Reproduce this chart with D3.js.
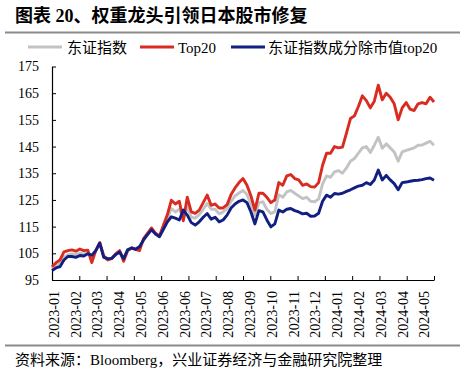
<!DOCTYPE html>
<html><head><meta charset="utf-8">
<script src="https://cdn.jsdelivr.net/npm/d3@7/dist/d3.min.js"></script>
<style>
body{margin:0;background:#fff;}
svg text{font-family:"Liberation Serif","Times New Roman","Noto Sans CJK SC",serif;}
</style></head><body>
<svg id="c" width="474" height="376"></svg>
<script>
const seriesNames = ["东证指数","Top20","东证指数成分除市值top20"];
const topix = [99.5,100.5,101.5,103.5,104.5,104.8,104.5,105,104.8,105.3,103.5,106,109,104,103,103.2,104.5,105.5,102.8,106.3,107,106.8,107.5,110,112,114,112.5,111.5,114.5,118,121.8,120.5,121.5,118,122.4,118.5,118.2,119.5,121.5,123.7,121.5,121.5,119.8,120.5,121.8,124.5,126.5,127.6,128.5,127,123.5,119.3,124,124.3,121.5,119.9,120.5,127,126,128,128.6,127.5,126.5,125.5,126,124.5,124.3,125.3,131,134,133.5,135.5,136,135,137,139.5,140.5,142.5,144.5,145,142.8,145.5,148.5,144.4,146,144.5,143,139.5,143,143.6,144,144.5,145.5,145.6,146.3,147,145.5];
const top20 = [100,101.5,102.5,105.5,106,106.3,105.8,106.6,106,106.2,101.5,106,109,104,102.5,103,104.8,106,102,106,107,106.5,106,110.5,112.5,114.5,112.5,111.5,115.5,119.5,124.9,123.5,124.5,117.2,126,120.5,120,121.2,124,126.8,123,123.5,122,122,123.2,127,129.5,131.5,133,130.5,126.5,121.2,127.5,127.5,126,124,125,131.5,130.5,134,134.5,133,132.5,130.5,131,130,129.8,131.5,138,142.5,142.5,145,144.5,144.8,150,155.5,156.5,160,164,162.2,159.5,162,168,162.5,165,163.5,161,155,159.5,161.5,159,158.5,161,161.5,161,163.5,161.7];
const exTop20 = [98.5,99.5,100,102.5,103.8,103.8,103.5,104.2,104,104.8,104.3,106,108.8,103.5,103,103.1,104.5,105.5,103,106.3,107,106.5,107.5,110,112,113.8,112.2,111.2,114,116.8,118.7,118.2,117.5,121.2,119.3,116.5,115.6,116.8,118.5,119.9,117.8,118.5,116.8,117.5,119.3,122,123.5,124.5,125,124,120.5,116,121,120.5,117.5,114.9,116,121.2,120.5,121.5,121.8,121,120.5,119.8,120,118.9,119,120,124.5,126.8,126,127.4,127.2,127.5,128.2,128.8,129.5,130.2,130.5,131.5,130.8,132.5,136.2,132.5,134.2,132.5,131.1,128.8,131.5,131.7,132,132.3,132.4,132.6,133,133.2,132.4];
const xLabels = ["2023-01","2023-02","2023-03","2023-04","2023-05","2023-06","2023-06","2023-07","2023-08","2023-09","2023-10","2023-11","2023-12","2024-01","2024-02","2024-03","2024-04","2024-05"];
const yTicks = [95,105,115,125,135,145,155,165,175];
const colors = ["#c3c3c3","#d92b20","#112080"];

const svg = d3.select("#c");
const pL = 52, pR = 434, pT = 66.5, pB = 280;
const n = topix.length;
const x = d3.scaleLinear().domain([0, n-1]).range([pL, pR]);
const y = d3.scaleLinear().domain([95,175]).range([pB, pT]);

// title
svg.append("text").attr("x",15).attr("y",22).attr("font-size",18).attr("font-weight","bold")
  .style("font-family","'Liberation Serif','Noto Sans CJK SC',serif").text("图表 20、权重龙头引领日本股市修复");
svg.append("line").attr("x1",5).attr("x2",460).attr("y1",32.5).attr("y2",32.5).attr("stroke","#8a8a8a").attr("stroke-width",2);
svg.append("line").attr("x1",5).attr("x2",460).attr("y1",345.5).attr("y2",345.5).attr("stroke","#8a8a8a").attr("stroke-width",2);
svg.append("text").attr("x",15).attr("y",365).attr("font-size",15).text("资料来源：Bloomberg，兴业证券经济与金融研究院整理");

// legend
const legX = [[28,67],[140,178],[231,268]];
seriesNames.forEach((s,i)=>{
  svg.append("line").attr("x1",legX[i][0]).attr("x2",legX[i][0]+34).attr("y1",47).attr("y2",47).attr("stroke",colors[i]).attr("stroke-width",3);
  svg.append("text").attr("x",legX[i][1]).attr("y",52.5).attr("font-size",15).text(s);
});

// y axis
const ya = svg.append("g").attr("transform",`translate(${pL},0)`)
  .call(d3.axisLeft(y).tickValues(yTicks).tickSizeInner(-4).tickSizeOuter(0).tickPadding(13));
ya.select(".domain").attr("stroke","#000").attr("stroke-width",1.2);
ya.selectAll("text").attr("font-size",14).attr("fill","#000").style("font-family","'Liberation Serif',serif");

// x axis ticks (14 intervals)
const tickScale = d3.scaleLinear().domain([0,14]).range([pL,pR]);
const xa = svg.append("g").attr("transform",`translate(0,${pB})`)
  .call(d3.axisBottom(tickScale).tickValues(d3.range(1,15)).tickSizeInner(-4).tickSizeOuter(0).tickFormat(""));
xa.select(".domain").attr("stroke","#000").attr("stroke-width",1.2);
// x labels
const lab = d3.scalePoint().domain(d3.range(xLabels.length)).range([53.5,424]);
const xl = svg.append("g").attr("transform",`translate(0,${pB})`)
  .call(d3.axisBottom(lab).tickSize(0).tickFormat(i=>xLabels[i]));
xl.select(".domain").remove();
xl.selectAll("text").attr("font-size",14).attr("fill","#000").style("font-family","'Liberation Serif',serif")
  .attr("transform","rotate(-90)").attr("text-anchor","end").attr("x",-11).attr("y",0).attr("dy","0.35em");

// lines
const line = d3.line().x((d,i)=>x(i)).y(d=>y(d)).curve(d3.curveLinear);
[topix, top20, exTop20].forEach((arr,i)=>{
  svg.append("path").datum(arr).attr("d",line).attr("fill","none").attr("stroke",colors[i]).attr("stroke-width",2.9).attr("stroke-linejoin","round");
});
</script></body></html>
